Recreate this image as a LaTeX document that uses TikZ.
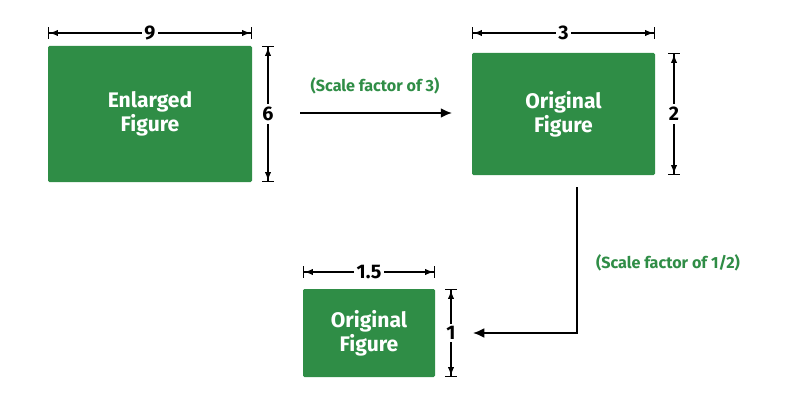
\documentclass[tikz,border=0pt]{standalone}
\usepackage{fontspec}
\setmainfont{Fira Sans}
\usetikzlibrary{arrows.meta}
\usetikzlibrary{positioning}
\definecolor{figgreen}{HTML}{2F8D46}
\begin{document}
\begin{tikzpicture}[x=0.025cm, y=-0.025cm,
	figbox/.style = {fill = figgreen, draw = none, rounded corners = 1pt, text = white, align = center, font = \fontsize{15}{17}\selectfont\bfseries, inner sep = 0pt},
	dim/.style = {{Bar[width=8pt]Latex[length=6pt]}-{Latex[length=6pt]Bar[width=8pt]}, line width = 1pt},
	dimlabel/.style = {fill = white, inner sep = 2pt, font = \fontsize{14}{16}\selectfont\bfseries},
	scalearrow/.style = {-{Latex[length=8pt, width=7pt]}, line width = 1.3pt},
	scalelabel/.style = {text = figgreen, font = \fontsize{11.5}{13}\selectfont\bfseries}]
	\useasboundingbox (0,0) rectangle (800,400);

	% enlarged figure
	\node [figbox, minimum width = 204*0.025cm, minimum height = 136*0.025cm] (enlarged) at (150,114) {Enlarged\\Figure};
	\coordinate (enlTopL) at (48,33);
	\coordinate (enlTopR) at (252,33);
	\coordinate (enlSideT) at (268,46);
	\coordinate (enlSideB) at (268,182);
	\draw [dim] (enlTopL) -- (enlTopR) node [midway, dimlabel] {9};
	\draw [dim] (enlSideT) -- (enlSideB) node [midway, dimlabel] {6};

	% original figure
	\node [figbox, minimum width = 183*0.025cm, minimum height = 122*0.025cm] (original) at (563.5,114) {Original\\Figure};
	\coordinate (oriTopL) at (472,33);
	\coordinate (oriTopR) at (655,33);
	\coordinate (oriSideT) at (674,53);
	\coordinate (oriSideB) at (674,175);
	\draw [dim] (oriTopL) -- (oriTopR) node [midway, dimlabel] {3};
	\draw [dim] (oriSideT) -- (oriSideB) node [midway, dimlabel] {2};

	% reduced figure
	\node [figbox, minimum width = 132*0.025cm, minimum height = 88*0.025cm] (reduced) at (369,333) {Original\\Figure};
	\coordinate (redTopL) at (303,272);
	\coordinate (redTopR) at (435,272);
	\coordinate (redSideT) at (451,289);
	\coordinate (redSideB) at (451,377);
	\draw [dim] (redTopL) -- (redTopR) node [midway, dimlabel] {1.5};
	\draw [dim] (redSideT) -- (redSideB) node [midway, dimlabel] {1};

	% scaling arrows
	\coordinate (scaleAStart) at (300,113);
	\coordinate (scaleAEnd) at (452,113);
	\draw [scalearrow] (scaleAStart) -- (scaleAEnd);
	\node [scalelabel] (scaleALabel) at (375,86) {(Scale factor of 3)};
	\coordinate (scaleBStart) at (577,187);
	\coordinate (scaleBEnd) at (473,333);
	\draw [scalearrow] (scaleBStart) |- (scaleBEnd);
	\node [scalelabel] (scaleBLabel) at (668,263) {(Scale factor of 1/2)};

\end{tikzpicture}
\end{document}
